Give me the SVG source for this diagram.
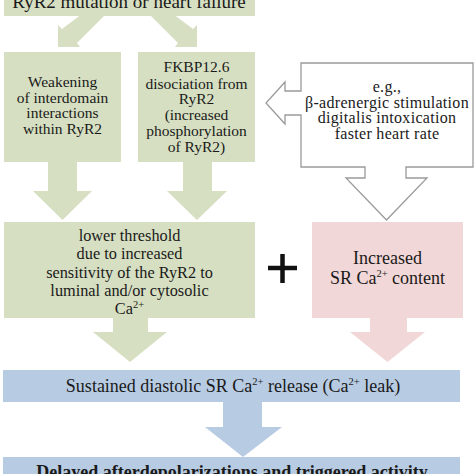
<svg xmlns="http://www.w3.org/2000/svg" width="474" height="474" viewBox="0 0 474 474" font-family="Liberation Serif, Times New Roman, serif">
<style>
.g{fill:#d6dfc1}
.p{fill:#f1d7d7}
.b{fill:#b7cbe2}
.w{fill:#fff;stroke:#9a9a9a;stroke-width:1.3}
text{font-family:"Liberation Serif","Times New Roman",serif;fill:#1a1a1a;text-anchor:middle}
.t2{font-size:15.5px}
.te{font-size:16px;letter-spacing:0.3px}
.tl{font-size:16.3px}
.t18{font-size:18px}
.sup{font-size:10.5px}
</style>
<rect width="474" height="474" fill="#fff"/>
<g id="connectors">
<polygon class="g" points="82,14 106,14 77,43 80,47 58,47 58,25 62,29"/>
<polygon class="g" points="173,14 149,14 178,43 175,47 197,47 197,25 193,29"/>
<polygon class="g" points="48,162 77,162 77,191 92,191 62.5,220 33,191 48,191"/>
<polygon class="g" points="183,162 212,162 212,191 227,191 197,220 167,191 183,191"/>
<polygon class="g" points="113,318 148,318 148,332 167,332 130,362 93,332 113,332"/>
<polygon class="p" points="370,318 407,318 407,332 425,332 387.5,362 350,332 370,332"/>
<polygon class="b" points="223,402 262,402 262,427 282,427 243,457 205,427 223,427"/>
</g>
<g id="n-top">
<rect class="g" x="4" y="-10" width="251" height="26"/>
<text x="129" y="8" style="font-size:19px">RyR2 mutation or heart failure</text>
</g>
<g id="n-weak">
<rect class="g" x="4" y="52" width="117" height="110"/>
<text class="t2"><tspan x="62.5" y="87">Weakening</tspan><tspan x="62.5" y="102.5">of interdomain</tspan><tspan x="62.5" y="118">interactions</tspan><tspan x="62.5" y="134">within RyR2</tspan></text>
</g>
<g id="n-fkbp">
<rect class="g" x="138" y="52" width="117" height="110"/>
<text class="t2"><tspan x="196.5" y="72">FKBP12.6</tspan><tspan x="196.5" y="88.5">disociation from</tspan><tspan x="196.5" y="104">RyR2</tspan><tspan x="196.5" y="120">(increased</tspan><tspan x="196.5" y="136">phosphorylation</tspan><tspan x="196.5" y="152">of RyR2)</tspan></text>
</g>
<g id="n-eg">
<polygon class="w" points="301,63 473,63 473,167 406,167 406,178 427,178 386.5,220 346,178 365,178 365,167 301,167 301,115 285,115 285,124 266,103 285,82 285,91 301,91"/>
<text class="te"><tspan x="387" y="92">e.g.,</tspan><tspan x="387" y="107.5">β-adrenergic stimulation</tspan><tspan x="387" y="123">digitalis intoxication</tspan><tspan x="387" y="138.5">faster heart rate</tspan></text>
</g>
<g id="n-lower">
<rect class="g" x="4" y="222" width="251" height="96"/>
<text class="tl"><tspan x="129.5" y="241">lower threshold</tspan><tspan x="129.5" y="259">due to increased</tspan><tspan x="129.5" y="278">sensitivity of the RyR2 to</tspan><tspan x="129.5" y="296">luminal and/or cytosolic</tspan><tspan x="129.5" y="314">Ca<tspan class="sup" dy="-6">2+</tspan></tspan></text>
</g>
<g id="n-plus">
<path d="M268,268H297M282.5,254V283" stroke="#111" stroke-width="4.5" fill="none"/>
</g>
<g id="n-inc">
<rect class="p" x="312" y="222" width="151" height="96"/>
<text class="t18"><tspan x="387.5" y="264">Increased</tspan><tspan x="387.5" y="284">SR Ca<tspan class="sup" dy="-7">2+</tspan><tspan dy="7"> content</tspan></tspan></text>
</g>
<g id="n-sust">
<rect class="b" x="3" y="370" width="457" height="32"/>
<text class="t18" x="233" y="391.5">Sustained diastolic SR Ca<tspan class="sup" dy="-7">2+</tspan><tspan dy="7"> release (Ca</tspan><tspan class="sup" dy="-7">2+</tspan><tspan dy="7"> leak)</tspan></text>
</g>
<g id="n-dad">
<rect class="b" x="3" y="457" width="457" height="30"/>
<text x="232" y="477.5" style="font-size:18px;font-weight:bold">Delayed afterdepolarizations and triggered activity</text>
</g>
</svg>
